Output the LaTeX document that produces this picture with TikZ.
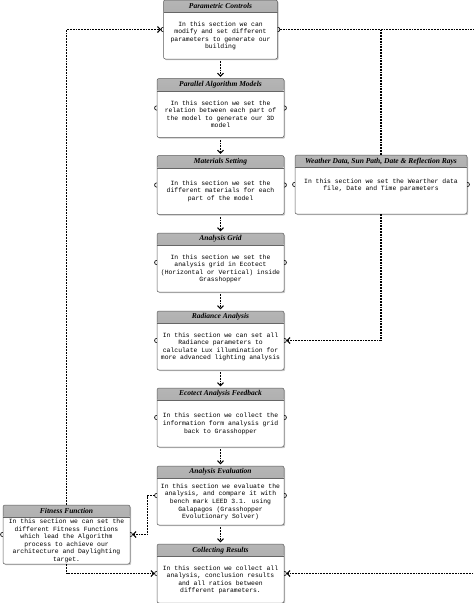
\documentclass[tikz,border=0pt]{standalone}
\usepackage{fontspec}
\newfontfamily\titlefont{Liberation Serif}
\newfontfamily\bodyfont{Liberation Mono}
\usetikzlibrary{arrows.meta,shadows}

\begin{document}
\begin{tikzpicture}[x=1pt,y=1pt,
    box/.style={draw=black!65, line width=0.5pt, rounded corners=2pt, fill=white,
        drop shadow={shadow xshift=1.2pt, shadow yshift=-1.2pt, opacity=0.45},
        minimum width=127pt, minimum height=59pt,
        path picture={
            \shade[top color=gray!58, bottom color=gray!78]
                (path picture bounding box.north west) rectangle
                ([yshift=-12.5pt]path picture bounding box.north east);
            \draw[black!60] ([yshift=-12.5pt]path picture bounding box.north west) --
                ([yshift=-12.5pt]path picture bounding box.north east);}},
    head/.style={anchor=north, minimum height=12.5pt,
        font=\titlefont\bfseries\itshape\fontsize{7.5}{8}\selectfont},
    body/.style={align=center, font=\bodyfont\fontsize{6.4}{7.6}\selectfont},
    port/.style={line width=0.65pt},
    link/.style={line width=1.05pt, dash pattern=on 1.8pt off 1pt},
    flow/.style={link, -{Straight Barb[length=2.8pt,width=6pt,line width=1.1pt]}}]
            \tikzstyle{every node}+=[inner sep=0pt]
            \useasboundingbox (0,0) rectangle (474,-603);
            \node[box, minimum width=114pt] (pc) at (220.5,-29.5) {};
            \node[head] (pc-h) at (pc.north) {Parametric Controls};
            \node[body] (pc-b) at ([yshift=-6.25pt]pc.center) {In this section we can\\modify and set different\\parameters to generate our\\building};
            \node[box] (pa) at (220.5,-108) {};
            \node[head] (pa-h) at (pa.north) {Parallel Algorithm Models};
            \node[body] (pa-b) at ([yshift=-6.25pt]pa.center) {In this section we set the\\relation between each part of\\the model to generate our 3D\\model};
            \node[box] (ms) at (220.5,-185) {};
            \node[head] (ms-h) at (ms.north) {Materials Setting};
            \node[body] (ms-b) at ([yshift=-6.25pt]ms.center) {In this section we set the\\different materials for each\\part of the model};
            \node[box, minimum width=172pt] (wd) at (381,-184.5) {};
            \node[head] (wd-h) at (wd.north) {Weather Data, Sun Path, Date \& Reflection Rays};
            \node[body] (wd-b) at ([yshift=-1pt]wd.center) {In this section we set the Wearther data\\file, Date and Time parameters};
            \node[box] (ag) at (220.5,-262.5) {};
            \node[head] (ag-h) at (ag.north) {Analysis Grid};
            \node[body] (ag-b) at ([yshift=-6.25pt]ag.center) {In this section we set the\\analysis grid in Ecotect\\(Horizontal or Vertical) inside\\Grasshopper};
            \node[box] (ra) at (220.5,-340.5) {};
            \node[head] (ra-h) at (ra.north) {Radiance Analysis};
            \node[body] (ra-b) at ([yshift=-6.25pt]ra.center) {In this section we can set all\\Radiance parameters to\\calculate Lux illumination for\\more advanced lighting analysis};
            \node[box] (ef) at (220.5,-417.5) {};
            \node[head] (ef-h) at (ef.north) {Ecotect Analysis Feedback};
            \node[body] (ef-b) at ([yshift=-6.25pt]ef.center) {In this section we collect the\\information form analysis grid\\back to Grasshopper};
            \node[box] (ae) at (220.5,-495.5) {};
            \node[head] (ae-h) at (ae.north) {Analysis Evaluation};
            \node[body] (ae-b) at ([yshift=-6.25pt]ae.center) {In this section we evaluate the\\analysis, and compare it with\\bench mark LEED 3.1. using\\Galapagos (Grasshopper\\Evolutionary Solver)};
            \node[box] (cr) at (220.5,-573.5) {};
            \node[head] (cr-h) at (cr.north) {Collecting Results};
            \node[body] (cr-b) at ([yshift=-6.25pt]cr.center) {In this section we collect all\\analysis, conclusion results\\and all ratios between\\different parameters.};
            \node[box] (ff) at (66.5,-534.5) {};
            \node[head] (ff-h) at (ff.north) {Fitness Function};
            \node[body] (ff-b) at ([yshift=-6.25pt]ff.center) {In this section we can set the\\different Fitness Functions\\which lead the Algorithm\\process to achieve our\\architecture and Daylighting\\target.};
            \foreach \n in {pc,pa,ms,wd,ag,ra,ef,ae,cr,ff} {
                \draw[port] ([yshift=2.2pt]\n.west) arc (90:270:2.2);
                \draw[port] ([yshift=-2.2pt]\n.east) arc (-90:90:2.2);
            }
            \foreach \a/\b in {pc/pa,pa/ms,ms/ag,ag/ra,ra/ef,ef/ae,ae/cr}
                \draw[flow, shorten <=2pt, shorten >=1.5pt] (\a) -- (\b);
            \coordinate (edge-t) at (474.3,-29.5);
            \coordinate (edge-b) at (474.3,-573.5);
            \draw[flow, shorten <=2.2pt, shorten >=2.2pt] (pc.east) -- (edge-t) -- (edge-b) -- (cr.east);
            \draw[link] (wd.north |- pc.east) -- (wd.north);
            \draw[flow, shorten >=2.2pt] (wd.south) |- (ra.east);
            \draw[flow, shorten >=2.2pt] (ff.north) |- (pc.west);
            \draw[flow, shorten >=2.2pt] (ff.south) |- (cr.west);
            \draw[flow, shorten <=2.2pt, shorten >=2.2pt] (ae.west) -- ++(-9,0) |- (ff.east);
        \end{tikzpicture}
\end{document}
